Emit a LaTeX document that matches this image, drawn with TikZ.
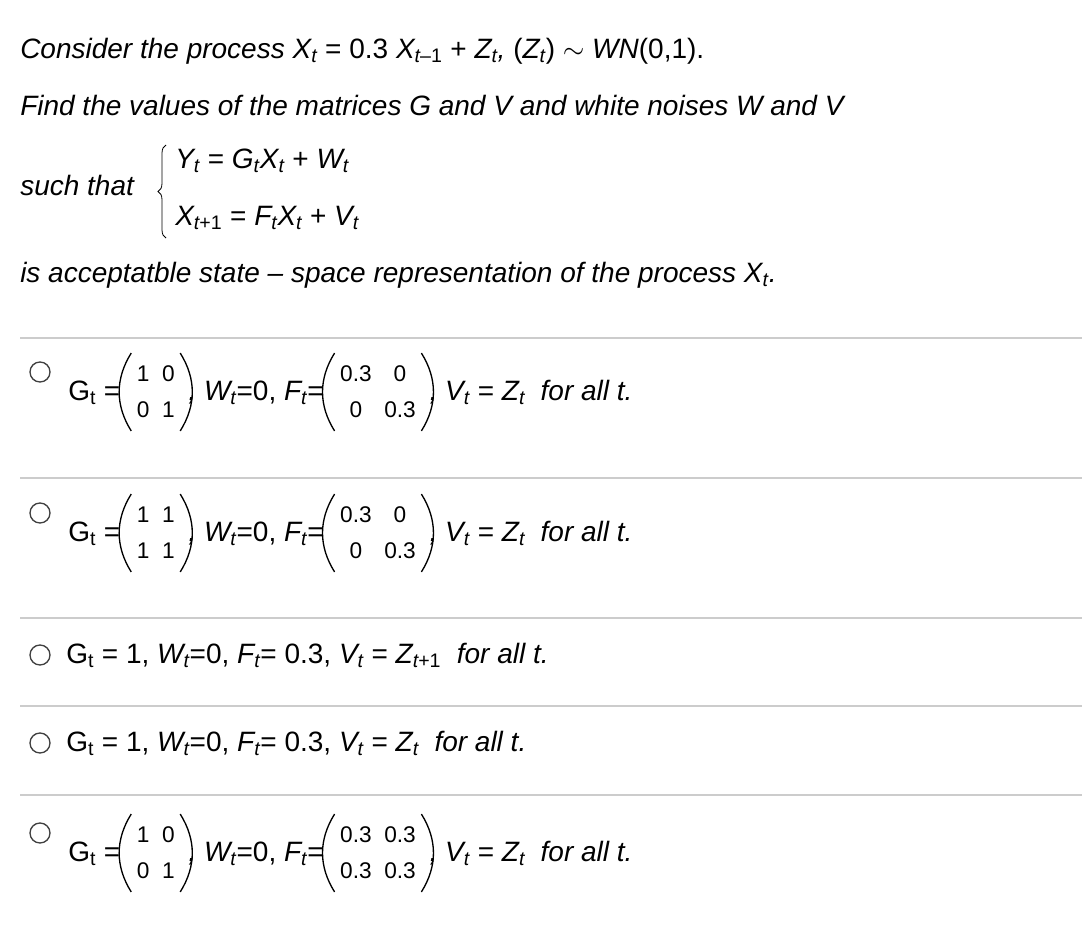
\documentclass[tikz,border=0pt]{standalone}
\usepackage{fontspec}
\setmainfont{Liberation Sans}
\usetikzlibrary{decorations.pathreplacing}
\newcommand{\sbt}[1]{\textsubscript{#1}}
\newcommand{\mtx}[4]{\renewcommand{\arraystretch}{1.3}\begin{tabular}{@{}c@{\ \ }c@{}}#1&#2\\#3&#4\end{tabular}}
\begin{document}
\begin{tikzpicture}[x=0.75pt,y=-0.75pt,
  txt/.style={anchor=base west,inner sep=0pt,font=\fontsize{21}{25}\selectfont\itshape},
  up/.style={anchor=base west,inner sep=0pt,font=\fontsize{21}{25}\selectfont},
  mx/.style={anchor=west,inner xsep=9pt,inner ysep=0pt,minimum height=58pt,font=\fontsize{17}{21}\selectfont},
  paren/.style={line width=1pt},
  sep/.style={draw=black!20,line width=1pt},
  radio/.style={draw=black!75,line width=1pt,circle,minimum size=15pt,inner sep=0pt}]
\newcommand{\parens}[1]{\draw[paren] ([xshift=5pt]#1.north west) to[bend right=32] ([xshift=5pt]#1.south west);
  \draw[paren] ([xshift=-5pt]#1.north east) to[bend left=32] ([xshift=-5pt]#1.south east);}
\useasboundingbox (0,0) rectangle (1082,928);
\node[txt] (l1) at (20,58) {Consider the process X\sbt{t} \upshape = 0.3 \itshape X\sbt{t\upshape{}--1} \upshape + \itshape Z\sbt{t}, \upshape (\itshape Z\sbt{t}\upshape ) $\sim$ \itshape WN\upshape(0,1).};
\node[txt] (l2) at (20,115) {Find the values of the matrices G and V and white noises W and V};
\node[txt] (st) at (20,195) {such that};
\draw[decorate,decoration={brace,amplitude=6pt},line width=0.6pt] (166,238) -- (166,145);
\node[txt] (e1) at (175,168) {Y\sbt{t} \upshape = \itshape G\sbt{t}X\sbt{t} \upshape + \itshape W\sbt{t}};
\node[txt] (e2) at (175,225) {X\sbt{t\upshape{}+1} \upshape = \itshape F\sbt{t}X\sbt{t} \upshape + \itshape V\sbt{t}};
\node[txt] (l3) at (20,282) {is acceptatble state -- space representation of the process X\sbt{t}.};
\draw[sep] (20,338) -- (1082,338);
\draw[sep] (20,478) -- (1082,478);
\draw[sep] (20,618) -- (1082,618);
\draw[sep] (20,706) -- (1082,706);
\draw[sep] (20,795) -- (1082,795);
% option 1
\node[radio] (r1) at (40,372) {};
\node[up] (a1) at (68,400) {G\sbt{t} =};
\node[mx] (m1) at ([xshift=3pt]a1.east |- 0,392) {\mtx{1}{0}{0}{1}};
\parens{m1}
\node[txt] (b1) at ([xshift=1pt]m1.east |- a1.base) {, W\sbt{t}\upshape{}=0, \itshape F\sbt{t}\upshape{}=};
\node[mx] (n1) at ([xshift=3pt]b1.east |- m1.west) {\mtx{0.3}{0}{0}{0.3}};
\parens{n1}
\node[txt] (c1) at ([xshift=1pt]n1.east |- a1.base) {, V\sbt{t} \upshape = \itshape Z\sbt{t}\ \ for all t.};
% option 2
\node[radio] (r2) at (40,513) {};
\node[up] (a2) at (68,541) {G\sbt{t} =};
\node[mx] (m2) at ([xshift=3pt]a2.east |- 0,533) {\mtx{1}{1}{1}{1}};
\parens{m2}
\node[txt] (b2) at ([xshift=1pt]m2.east |- a2.base) {, W\sbt{t}\upshape{}=0, \itshape F\sbt{t}\upshape{}=};
\node[mx] (n2) at ([xshift=3pt]b2.east |- m2.west) {\mtx{0.3}{0}{0}{0.3}};
\parens{n2}
\node[txt] (c2) at ([xshift=1pt]n2.east |- a2.base) {, V\sbt{t} \upshape = \itshape Z\sbt{t}\ \ for all t.};
% option 3
\node[radio] (r3) at (40,655) {};
\node[txt] (o3) at (66,663) {\upshape G\sbt{t} = 1, \itshape W\sbt{t}\upshape{}=0, \itshape F\sbt{t}\upshape{}= 0.3, \itshape V\sbt{t} \upshape = \itshape Z\sbt{t\upshape{}+1}\ \ for all t.};
% option 4
\node[radio] (r4) at (40,743) {};
\node[txt] (o4) at (66,751) {\upshape G\sbt{t} = 1, \itshape W\sbt{t}\upshape{}=0, \itshape F\sbt{t}\upshape{}= 0.3, \itshape V\sbt{t} \upshape = \itshape Z\sbt{t}\ \ for all t.};
% option 5
\node[radio] (r5) at (40,833) {};
\node[up] (a5) at (68,861) {G\sbt{t} =};
\node[mx] (m5) at ([xshift=3pt]a5.east |- 0,853) {\mtx{1}{0}{0}{1}};
\parens{m5}
\node[txt] (b5) at ([xshift=1pt]m5.east |- a5.base) {, W\sbt{t}\upshape{}=0, \itshape F\sbt{t}\upshape{}=};
\node[mx] (n5) at ([xshift=3pt]b5.east |- m5.west) {\mtx{0.3}{0.3}{0.3}{0.3}};
\parens{n5}
\node[txt] (c5) at ([xshift=1pt]n5.east |- a5.base) {, V\sbt{t} \upshape = \itshape Z\sbt{t}\ \ for all t.};
\end{tikzpicture}
\end{document}
